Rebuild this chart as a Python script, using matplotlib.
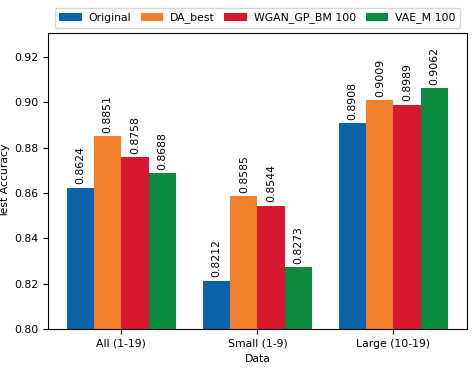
import numpy as np
import matplotlib
matplotlib.use('Agg')
import matplotlib.pyplot as plt

categories = ['All (1-19)', 'Small (1-9)', 'Large (10-19)']
series_names = ['Original', 'DA_best', 'WGAN_GP_BM 100', 'VAE_M 100']
original = [0.8624, 0.8212, 0.8908]
da_best = [0.8851, 0.8585, 0.9009]
wgan = [0.8758, 0.8544, 0.8989]
vae = [0.8688, 0.8273, 0.9062]
colors = ['#0c62a6', '#f27f2c', '#d6192e', '#0b8a40']

plt.rcParams['font.size'] = 7.8
fig = plt.figure(figsize=(4.74, 3.70), dpi=100)
ax = fig.add_axes([0.101, 0.111, 0.884, 0.80])

x = np.arange(len(categories))
width = 0.2
for i, (name, vals) in enumerate(zip(series_names, [original, da_best, wgan, vae])):
    bars = ax.bar(x + (i - 1.5) * width, vals, width, label=name, color=colors[i])
    for b, v in zip(bars, vals):
        ax.text(b.get_x() + b.get_width() / 2, v + 0.0015, '{:.4f}'.format(v),
                rotation=90, ha='center', va='bottom', fontsize=7.8)

ax.set_ylim(0.80, 0.9306)
ax.set_xticks(x)
ax.set_xticklabels(categories)
ax.set_xlabel('Data', labelpad=4)
ax.set_ylabel('Test Accuracy', labelpad=3)
ax.legend(ncol=4, loc='lower center', bbox_to_anchor=(0.5, 1.01),
          fontsize=7.8, handlelength=2.1, columnspacing=0.85, handletextpad=0.65,
          borderpad=0.4, borderaxespad=0.2)

fig.savefig('out.png', dpi=100)
